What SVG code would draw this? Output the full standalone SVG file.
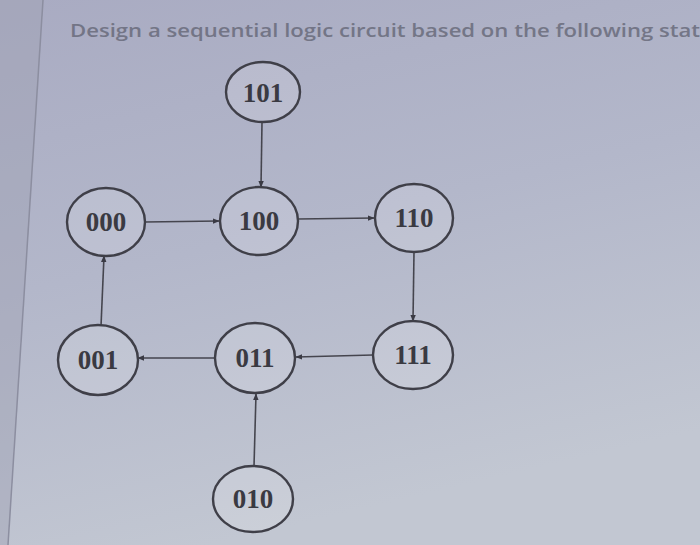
<svg xmlns="http://www.w3.org/2000/svg" width="700" height="545" viewBox="0 0 700 545">
<defs>
<linearGradient id="bg" x1="0" y1="0" x2="0.3" y2="1">
<stop offset="0" stop-color="#a9abc2"/>
<stop offset="0.5" stop-color="#b3b7ca"/>
<stop offset="1" stop-color="#c2c7d2"/>
</linearGradient>
<marker id="ah" viewBox="0 0 10 10" refX="9" refY="5" markerWidth="7" markerHeight="7" markerUnits="userSpaceOnUse" orient="auto">
<path d="M0,1 L10,5 L0,9 z" fill="#3a3a44"/>
</marker>
<style>
.node ellipse{fill:#ffffff;fill-opacity:0.15;stroke:#3f3f48;stroke-width:2.4}
.node text{font-family:"Liberation Serif","DejaVu Serif",serif;font-weight:bold;font-size:27px;fill:#3a3a42;text-anchor:middle;dominant-baseline:central}
.edge{stroke:#45454e;stroke-width:1.6;fill:none;marker-end:url(#ah)}
</style>
</defs>
<rect width="700" height="545" fill="url(#bg)"/>
<polygon points="0,0 43,0 8,545 0,545" fill="#9fa2b3" opacity="0.45"/>
<line x1="43" y1="0" x2="8" y2="545" stroke="#8c8ea0" stroke-width="1.5"/>
<text x="70" y="37" textLength="630" lengthAdjust="spacingAndGlyphs" font-family="Open Sans, Liberation Sans, sans-serif" font-size="18" font-weight="600" fill="#6a6c7c" opacity="0.85">Design a sequential logic circuit based on the following stat</text>
<g id="edges">
<line class="edge" x1="262" y1="122" x2="261" y2="187"/>
<line class="edge" x1="145" y1="222" x2="219" y2="221"/>
<line class="edge" x1="298" y1="219" x2="374" y2="218"/>
<line class="edge" x1="414" y1="252" x2="413" y2="321"/>
<line class="edge" x1="373" y1="355" x2="296" y2="357"/>
<line class="edge" x1="215" y1="358" x2="138" y2="358"/>
<line class="edge" x1="101" y1="326" x2="104" y2="256"/>
<line class="edge" x1="254" y1="466" x2="256" y2="394"/>
</g>
<g id="n101" class="node"><ellipse cx="263" cy="92" rx="37" ry="30"/><text x="263" y="93">101</text></g>
<g id="n000" class="node"><ellipse cx="106" cy="222" rx="39" ry="34"/><text x="106" y="222">000</text></g>
<g id="n100" class="node"><ellipse cx="259" cy="221" rx="39" ry="34"/><text x="259" y="221">100</text></g>
<g id="n110" class="node"><ellipse cx="414" cy="218" rx="39" ry="34"/><text x="414" y="218">110</text></g>
<g id="n001" class="node"><ellipse cx="98" cy="360" rx="40" ry="35"/><text x="98" y="360">001</text></g>
<g id="n011" class="node"><ellipse cx="255" cy="358" rx="40" ry="35"/><text x="255" y="358">011</text></g>
<g id="n111" class="node"><ellipse cx="413" cy="355" rx="40" ry="34"/><text x="413" y="355">111</text></g>
<g id="n010" class="node"><ellipse cx="253" cy="499" rx="40" ry="33"/><text x="253" y="499">010</text></g>
</svg>
